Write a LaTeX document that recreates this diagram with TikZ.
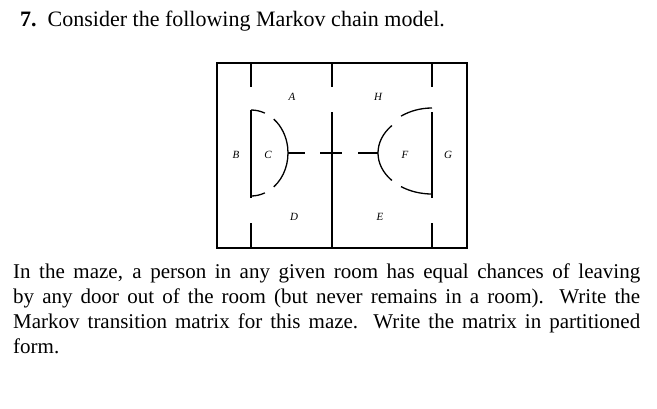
\documentclass[tikz,border=0pt]{standalone}
\usepackage{fontspec}
\setmainfont{Liberation Serif}
\begin{document}
\begin{tikzpicture}[x=1pt,y=-1pt,wall/.style={line width=1.3pt},lab/.style={font=\itshape\fontsize{11}{13}\selectfont,inner sep=0pt},
txt/.style={anchor=north west,inner sep=0pt,font=\fontsize{21}{25}\selectfont,align=justify,text width=627pt}]
\useasboundingbox (0,0) rectangle (657,408);
\draw[wall] (217,63) rectangle (467,248);
\draw[wall] (251,63)--(251,87) (251,110)--(251,198) (251,223)--(251,248);
\draw[wall] (332,63)--(332,87) (332,112)--(332,248);
\draw[wall] (432,63)--(432,87) (432,112)--(432,198) (432,223)--(432,248);
% left semicircle
\draw[wall] (251,153) ++(90:37 and 43) arc[start angle=90,end angle=68,x radius=37,y radius=43];
\draw[wall] (251,153) ++(52:37 and 43) arc[start angle=52,end angle=-52,x radius=37,y radius=43];
\draw[wall] (251,153) ++(-68:37 and 43) arc[start angle=-68,end angle=-90,x radius=37,y radius=43];
% right semicircle
\draw[wall] (432,153) ++(90:54 and 41) arc[start angle=90,end angle=125,x radius=54,y radius=41];
\draw[wall] (432,153) ++(138:54 and 41) arc[start angle=138,end angle=222,x radius=54,y radius=41];
\draw[wall] (432,153) ++(235:54 and 45) arc[start angle=235,end angle=270,x radius=54,y radius=45];
\draw[wall] (288,153)--(305,153) (320,153)--(342,153) (358,153)--(378,153);
\node[lab] (A) at (292,97) {A};
\node[lab] (H) at (378,97) {H};
\node[lab] (B) at (236,155) {B};
\node[lab] (C) at (268,155) {C};
\node[lab] (F) at (405,155) {F};
\node[lab] (G) at (448,155) {G};
\node[lab] (D) at (294,217) {D};
\node[lab] (E) at (380,217) {E};
\node[txt,anchor=west,text width=,font=\fontsize{22}{25}\selectfont] (t) at (20,21) {\textbf{7.}\ \ Consider the following Markov chain model.};
\node[txt] (p) at (13,264) {In the maze, a person in any given room has equal chances of leaving\linebreak by any door out of the room (but never remains in a room). Write the\linebreak Markov transition matrix for this maze. Write the matrix in partitioned\linebreak form.};
\end{tikzpicture}
\end{document}
